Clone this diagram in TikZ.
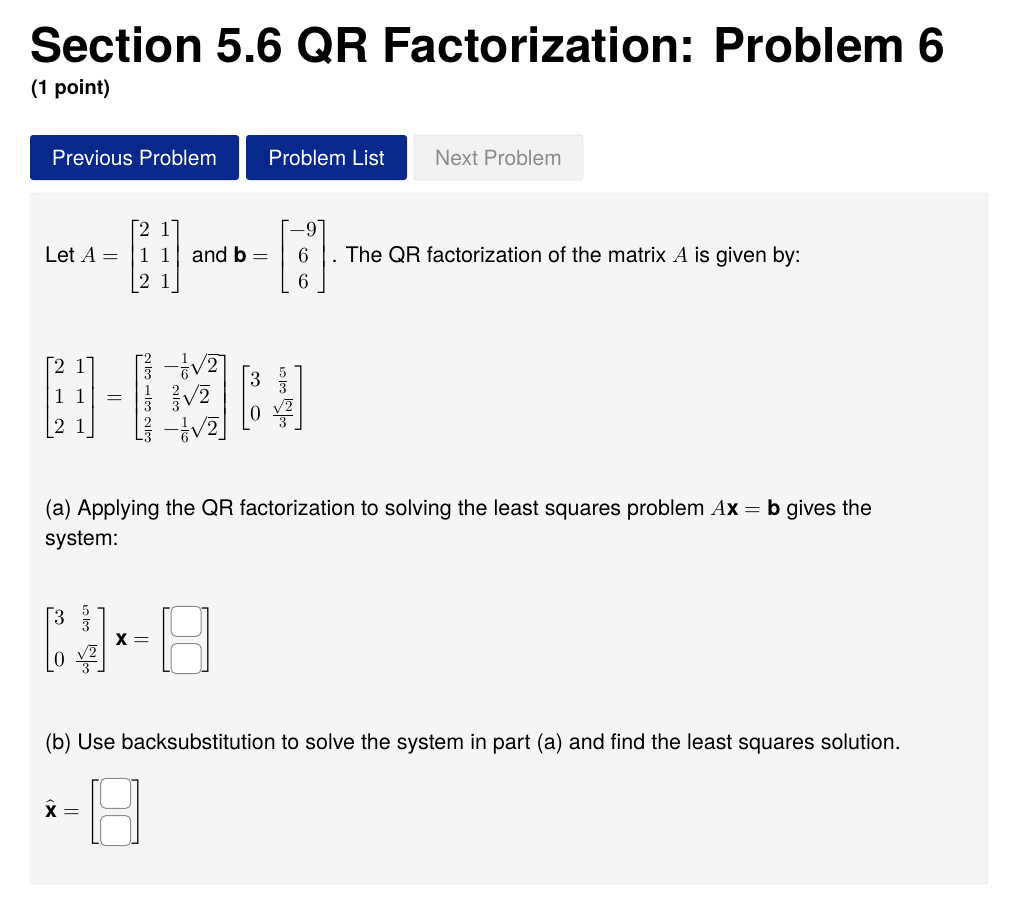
\documentclass[tikz,border=0pt]{standalone}
\usepackage{amsmath}
\usepackage{fontspec}
\usepackage{unicode-math}
\setmainfont{TeX Gyre Heros}
\setmathfont{Latin Modern Math}
\definecolor{btnblue}{RGB}{8,40,140}
\definecolor{panel}{RGB}{245,245,245}
\definecolor{panelline}{RGB}{222,222,222}
\newcommand{\ib}{\tikz[baseline=11pt,x=1pt,y=1pt]\draw[rounded corners=5pt,fill=white,draw=black!45,line width=1pt] (0,0) rectangle (30,30);}
\tikzset{
  btn/.style={rounded corners=3pt,minimum height=45pt,inner sep=0pt,font=\fontsize{21}{24}\selectfont},
  body/.style={inner sep=0pt,font=\fontsize{21.5}{26}\selectfont},
}
\begin{document}
\begin{tikzpicture}[x=1pt,y=-1pt]
\useasboundingbox[fill=white] (0,0) rectangle (1024,905);
\node[anchor=base west,inner sep=0pt,font=\fontsize{48}{54}\selectfont\bfseries] (title) at (30,62) {Section 5.6 QR Factorization: Problem 6};
\node[anchor=base west,inner sep=0pt,font=\fontsize{20}{24}\selectfont\bfseries] (pts) at (31,94) {(1 point)};
\node[btn,fill=btnblue,text=white,minimum width=209pt] (prev) at (134.5,157.5) {Previous Problem};
\node[btn,fill=btnblue,text=white,minimum width=161pt] (list) at (326.5,157.5) {Problem List};
\node[btn,fill=black!5,draw=black!18,text=black!45,minimum width=169pt] (next) at (498.5,157.5) {Next Problem};
\draw[panelline,fill=panel,rounded corners=3pt] (30,193) rectangle (988,884);
\node[body,anchor=west] (let) at (45,257) {Let $A=\begin{bmatrix}2&1\\1&1\\2&1\end{bmatrix}$ and $\mathbf{b}=\begin{bmatrix}-9\\6\\6\end{bmatrix}$. The QR factorization of the matrix $A$ is given by:};
\node[body,anchor=west] (qr) at (40,398) {$\begin{bmatrix}2&1\\[4pt]1&1\\[4pt]2&1\end{bmatrix}=\begin{bmatrix}\tfrac23&-\tfrac16\sqrt2\\[4pt] \tfrac13&\tfrac23\sqrt2\\[4pt] \tfrac23&-\tfrac16\sqrt2\end{bmatrix}\begin{bmatrix}3&\tfrac53\\[4pt] 0&\tfrac{\sqrt2}{3}\end{bmatrix}$};
\node[body,anchor=base west] (pa) at (45,515) {(a) Applying the QR factorization to solving the least squares problem $A\mathbf{x}=\mathbf{b}$ gives the};
\node[body,anchor=base west] (pa2) at (45,545) {system:};
\node[body,anchor=west] (sys) at (40,640) {$\begin{bmatrix}3&\tfrac53\\[12pt] 0&\tfrac{\sqrt2}{3}\end{bmatrix}\mathbf{x}=\begin{bmatrix}\ib\\[10pt]\ib\end{bmatrix}$};
\node[body,anchor=base west] (pb) at (45,749) {(b) Use backsubstitution to solve the system in part (a) and find the least squares solution.};
\node[body,anchor=west] (xh) at (45,812) {$\hat{\mathbf{x}}=\begin{bmatrix}\ib\\[10pt]\ib\end{bmatrix}$};
\end{tikzpicture}
\end{document}
